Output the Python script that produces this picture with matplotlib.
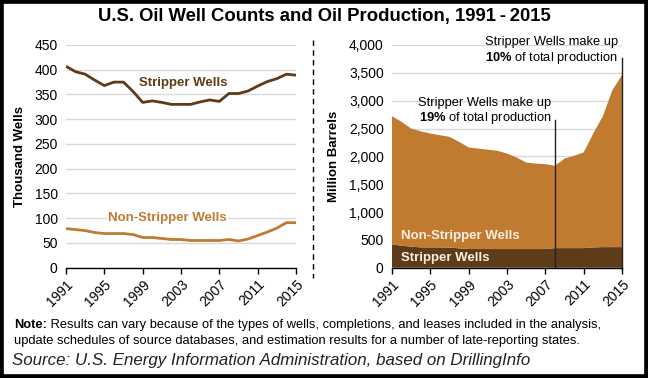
import numpy as np
import matplotlib
matplotlib.use("Agg")
from matplotlib import pyplot as plt
from matplotlib.lines import Line2D
from matplotlib.patches import Rectangle
from matplotlib.text import Annotation

plt.rcParams["font.family"] = ["Liberation Sans", "DejaVu Sans"]
plt.rcParams["mathtext.fontset"] = "custom"
plt.rcParams["mathtext.rm"] = "Liberation Sans"
plt.rcParams["mathtext.bf"] = "Liberation Sans:bold"

# Data
years = list(range(1991, 2016))

# Thousand wells
stripper_wells = [407, 396, 391, 379, 368, 375, 375, 356, 334, 337, 334, 330, 330,
                  330, 335, 339, 336, 352, 352, 357, 367, 376, 382, 391, 389]
nonstripper_wells = [79, 77, 75, 71, 69, 69, 69, 67, 61, 61, 59, 57, 57,
                     55, 55, 55, 55, 57, 54, 58, 65, 72, 80, 91, 91]

# Million barrels
stripper_prod = [420, 395, 378, 365, 365, 365, 362, 348, 336, 335, 335, 335, 335,
                 335, 335, 335, 335, 352, 352, 352, 352, 365, 370, 370, 370]
nonstripper_prod = [2300, 2225, 2122, 2085, 2045, 2015, 1988, 1912, 1824, 1805, 1785,
                    1765, 1715, 1645, 1555, 1535, 1525, 1478, 1608, 1658, 1718, 2045,
                    2350, 2820, 3090]

xticks = [1991, 1995, 1999, 2003, 2007, 2011, 2015]

dark = "#5e3b19"
orange = "#c17b31"
grid_col = "#d9d9d9"

fig = plt.figure(figsize=(6.48, 3.78), dpi=100)

ax_l = fig.add_axes([66 / 648, 1 - 267.7 / 378, 230 / 648, 222.7 / 378])
ax_r = fig.add_axes([392 / 648, 1 - 267.7 / 378, 230 / 648, 222.7 / 378])


def style_axes(ax, ymax, ystep):
    ax.set_xlim(1991, 2015)
    ax.set_ylim(0, ymax)
    ax.set_yticks(np.arange(0, ymax + 1, ystep))
    ax.set_xticks(xticks)
    ax.set_xticklabels([str(y) for y in xticks], rotation=45, ha="right",
                       rotation_mode="anchor", fontsize=10)
    ax.tick_params(axis="x", direction="out", length=4, width=1, color="black", pad=3)
    ax.tick_params(axis="y", length=0, labelsize=10, pad=6)
    for s in ["top", "right", "left"]:
        ax.spines[s].set_visible(False)
    ax.spines["bottom"].set_linewidth(1)
    ax.yaxis.grid(True, color=grid_col, linewidth=1)
    ax.set_axisbelow(True)


# Left panel: well counts
style_axes(ax_l, 450, 50)
ax_l.plot(years, stripper_wells, color=dark, linewidth=2.0, solid_capstyle="butt")
ax_l.plot(years, nonstripper_wells, color=orange, linewidth=2.0, solid_capstyle="butt")
ax_l.text(2003.2, 374, "Stripper Wells", color=dark, fontsize=9.5, fontweight="bold",
          ha="center", va="center")
ax_l.text(2001.6, 100, "Non-Stripper Wells", color=orange, fontsize=9.5,
          fontweight="bold", ha="center", va="center",
          bbox=dict(facecolor="white", edgecolor="none", pad=1))
ax_l.set_ylabel("Thousand Wells", fontsize=9.5, fontweight="bold", labelpad=6)

# Right panel: production
style_axes(ax_r, 4000, 500)
ax_r.yaxis.set_major_formatter(matplotlib.ticker.StrMethodFormatter("{x:,.0f}"))
ax_r.stackplot(years, stripper_prod, nonstripper_prod, colors=[dark, orange],
               linewidth=0)
ax_r.set_ylabel("Million Barrels", fontsize=9.5, fontweight="bold", labelpad=6)
ax_r.text(1991.95, 575, "Non-Stripper Wells", color="#fbeee0", fontsize=9.5,
          fontweight="bold", ha="left", va="center")
ax_r.text(1991.95, 175, "Stripper Wells", color="#fbeee0", fontsize=9.5,
          fontweight="bold", ha="left", va="center")

# Annotation lines
ax_r.plot([2008, 2008], [0, 2650], color="#222222", linewidth=1)
ax_r.plot([2015, 2015], [0, 3760], color="#222222", linewidth=1, clip_on=False)
ax_r.text(2007.65, 3070, "Stripper Wells make up\n" + r"$\bf{19\%}$ of total production",
          fontsize=9.3, ha="right", va="top", linespacing=1.15)
ax_r.text(2014.6, 4160, "Stripper Wells make up\n" + r"$\bf{10\%}$ of total production",
          fontsize=9.3, ha="right", va="top", linespacing=1.15, clip_on=False)

# Dashed divider
fig.add_artist(Line2D([313 / 648, 313 / 648], [1 - 40 / 378, 1 - 278 / 378],
                      color="black", linewidth=1, linestyle=(0, (4, 3))))

# Title and footnotes
fig.text(0.5, 1 - 17 / 378, "U.S. Oil Well Counts and Oil Production, 1991\u2009-\u20092015",
         ha="center", va="center", fontsize=13.3, fontweight="bold")
note = fig.text(14 / 648, 1 - 325 / 378, "Note:", ha="left", va="center",
                fontsize=9.3, fontweight="bold")
fig.add_artist(Annotation(
    " Results can vary because of the types of wells, completions, "
    "and leases included in the analysis,",
    xy=(1, 0), xycoords=note, ha="left", va="bottom", fontsize=9.3))
fig.text(14 / 648, 1 - 341 / 378,
         "update schedules of source databases, and estimation results for a number "
         "of late-reporting states.",
         ha="left", va="center", fontsize=9.3)
fig.text(12 / 648, 1 - 361 / 378,
         "Source: U.S. Energy Information Administration, based on DrillingInfo",
         ha="left", va="center", fontsize=12.2, style="italic", color="#222222")

# Black frame around the picture
fig.add_artist(Rectangle((0, 0), 1, 1, transform=fig.transFigure, fill=False,
                         edgecolor="black", linewidth=5.5))

fig.savefig("out.png", dpi=100)
